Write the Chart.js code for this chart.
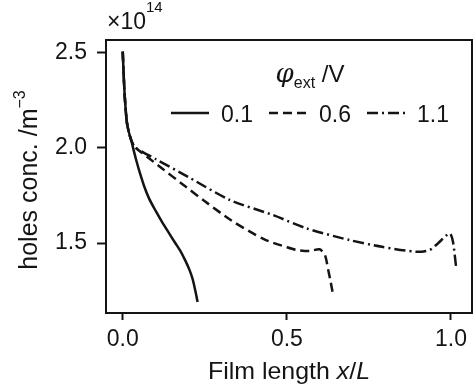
<!DOCTYPE html>
<html>
<head>
<meta charset="utf-8">
<script src="https://cdn.jsdelivr.net/npm/chart.js@4.4.1/dist/chart.umd.min.js"></script>
<style>
  html, body { margin: 0; padding: 0; background: #fff; }
  #caja { width: 474px; height: 387px; }
</style>
</head>
<body>
<div id="caja"><canvas id="grafica"></canvas></div>
<script>
// Datos (x/L, concentración en unidades de 1e14 m^-3)
const etiquetasSerie = ['0.1', '0.6', '1.1'];

const xSerie01 = [0, 0.002, 0.005, 0.009, 0.013, 0.019, 0.026, 0.033, 0.042, 0.052, 0.065, 0.08, 0.1, 0.12, 0.14, 0.16, 0.175, 0.19, 0.203, 0.213, 0.221, 0.228];
const ySerie01 = [2.507, 2.42, 2.305, 2.2, 2.13, 2.08, 2.04, 1.99, 1.93, 1.87, 1.8, 1.735, 1.67, 1.61, 1.555, 1.5, 1.46, 1.41, 1.36, 1.31, 1.25, 1.19];

const xSerie06 = [0, 0.002, 0.005, 0.009, 0.013, 0.019, 0.026, 0.033, 0.04, 0.08, 0.12, 0.18, 0.25, 0.33, 0.43, 0.5, 0.53, 0.57, 0.6, 0.616, 0.626, 0.633, 0.64];
const ySerie06 = [2.507, 2.42, 2.305, 2.2, 2.13, 2.08, 2.04, 2.015, 2.0, 1.946, 1.892, 1.812, 1.72, 1.62, 1.52, 1.478, 1.463, 1.458, 1.467, 1.437, 1.358, 1.3, 1.235];

const xSerie11 = [0, 0.002, 0.005, 0.009, 0.013, 0.019, 0.026, 0.033, 0.04, 0.1, 0.2, 0.327, 0.458, 0.56, 0.69, 0.79, 0.895, 0.935, 0.96, 0.996, 1.006, 1.016];
const ySerie11 = [2.507, 2.42, 2.305, 2.2, 2.13, 2.08, 2.04, 2.015, 2.0, 1.942, 1.847, 1.726, 1.647, 1.577, 1.516, 1.48, 1.454, 1.463, 1.498, 1.551, 1.507, 1.367];

const ticksX = [0, 0.5, 1.0];
const ticksY = [1.5, 2.0, 2.5];

const FUENTE = '"Liberation Sans", Arial, sans-serif';
const NEGRO = '#141414';

function aPuntos(xs, ys) {
    return xs.map((x, i) => ({ x: x, y: ys[i] }));
}

// Escribe trozos de texto seguidos; cada trozo: [texto, fuente, desplazamiento vertical]
function anchoTrozos(ctx, trozos) {
    let total = 0;
    trozos.forEach(t => { ctx.font = t[1]; total += ctx.measureText(t[0]).width; });
    return total;
}

function escribirTrozos(ctx, trozos, x, y) {
    trozos.forEach(t => {
        ctx.font = t[1];
        ctx.fillText(t[0], x, y + (t[2] || 0));
        x += ctx.measureText(t[0]).width;
    });
}

// Marco completo alrededor del área de la gráfica, títulos y leyenda
const pluginDecoracion = {
    id: 'decoracion',
    afterDraw(chart) {
        const ctx = chart.ctx;
        const a = chart.chartArea;
        ctx.save();
        ctx.strokeStyle = NEGRO;
        ctx.lineWidth = 2;
        ctx.strokeRect(a.left, a.top, a.right - a.left, a.bottom - a.top);

        ctx.fillStyle = NEGRO;
        ctx.textBaseline = 'alphabetic';
        ctx.textAlign = 'left';

        // Multiplicador del eje y
        escribirTrozos(ctx, [['\u00d710', '23px ' + FUENTE, 0], ['14', '15px ' + FUENTE, -17]], a.left + 1, 29);

        // Título eje x con x/L en cursiva
        const tituloX = [
            ['Film length ', '24px ' + FUENTE, 0],
            ['x', 'italic 24px ' + FUENTE, 0],
            ['/', '24px ' + FUENTE, 0],
            ['L', 'italic 24px ' + FUENTE, 0]
        ];
        const anchoX = anchoTrozos(ctx, tituloX);
        const escalaX = 162 / anchoX;
        ctx.save();
        ctx.translate((a.left + a.right) / 2 - 81, 379);
        ctx.scale(escalaX, 1);
        escribirTrozos(ctx, tituloX, 0, 0);
        ctx.restore();

        // Título eje y girado con superíndice
        const tituloY = [
            ['holes conc. /m', '25px ' + FUENTE, 0],
            ['\u22123', '16px ' + FUENTE, -12]
        ];
        const anchoY = anchoTrozos(ctx, tituloY);
        ctx.save();
        ctx.translate(37, 180);
        ctx.rotate(-Math.PI / 2);
        escribirTrozos(ctx, tituloY, -anchoY / 2, 0);
        ctx.restore();

        // Título de la leyenda: φ_ext /V
        const tituloLeyenda = [
            ['\u03c6', 'italic 26px "DejaVu Serif", serif', 0],
            ['ext', '16px ' + FUENTE, 6],
            [' /V', '24px ' + FUENTE, 0]
        ];
        const anchoL = anchoTrozos(ctx, tituloLeyenda);
        escribirTrozos(ctx, tituloLeyenda, 310 - anchoL / 2, 82);

        // Entradas de la leyenda tomadas de los datasets
        const inicios = [171, 269, 367];
        const yLinea = 113;
        chart.data.datasets.forEach((ds, i) => {
            ctx.beginPath();
            ctx.setLineDash(ds.borderDash || []);
            ctx.lineWidth = ds.borderWidth;
            ctx.strokeStyle = ds.borderColor;
            ctx.moveTo(inicios[i], yLinea);
            ctx.lineTo(inicios[i] + 38, yLinea);
            ctx.stroke();
            ctx.setLineDash([]);
            ctx.font = '23px ' + FUENTE;
            ctx.fillText(ds.label, inicios[i] + 50, 122);
        });
        ctx.restore();
    }
};

const estiloTicks = { color: NEGRO, font: { family: FUENTE, size: 23 } };

function serie(etiqueta, xs, ys, guiones) {
    return {
        label: etiqueta,
        data: aPuntos(xs, ys),
        borderColor: NEGRO,
        borderWidth: 2.5,
        borderDash: guiones,
        pointRadius: 0,
        tension: 0.25
    };
}

new Chart(document.getElementById('grafica'), {
    type: 'line',
    data: {
        datasets: [
            serie(etiquetasSerie[0], xSerie01, ySerie01, []),
            serie(etiquetasSerie[1], xSerie06, ySerie06, [9, 5]),
            serie(etiquetasSerie[2], xSerie11, ySerie11, [11, 4, 2, 4])
        ]
    },
    options: {
        responsive: true,
        maintainAspectRatio: false,
        animation: false,
        layout: { padding: { top: 40, right: 2, left: 0, bottom: 0 } },
        plugins: {
            legend: { display: false },
            tooltip: { enabled: false }
        },
        scales: {
            x: {
                type: 'linear',
                min: -0.051,
                max: 1.064,
                afterBuildTicks: (escala) => { escala.ticks = ticksX.map(v => ({ value: v })); },
                afterFit: (escala) => { escala.height = 74; },
                ticks: Object.assign({ padding: 6, maxRotation: 0, callback: (v) => v.toFixed(1) }, estiloTicks),
                grid: { drawOnChartArea: false, drawTicks: true, tickLength: 7, tickWidth: 2, color: NEGRO },
                border: { display: false }
            },
            y: {
                type: 'linear',
                min: 1.132,
                max: 2.568,
                afterBuildTicks: (escala) => { escala.ticks = ticksY.map(v => ({ value: v })); },
                afterFit: (escala) => { escala.width = 106; },
                ticks: Object.assign({ padding: 10, callback: (v) => v.toFixed(1) }, estiloTicks),
                grid: { drawOnChartArea: false, drawTicks: true, tickLength: 9, tickWidth: 2, color: NEGRO },
                border: { display: false }
            }
        }
    },
    plugins: [pluginDecoracion]
});
</script>
</body>
</html>
